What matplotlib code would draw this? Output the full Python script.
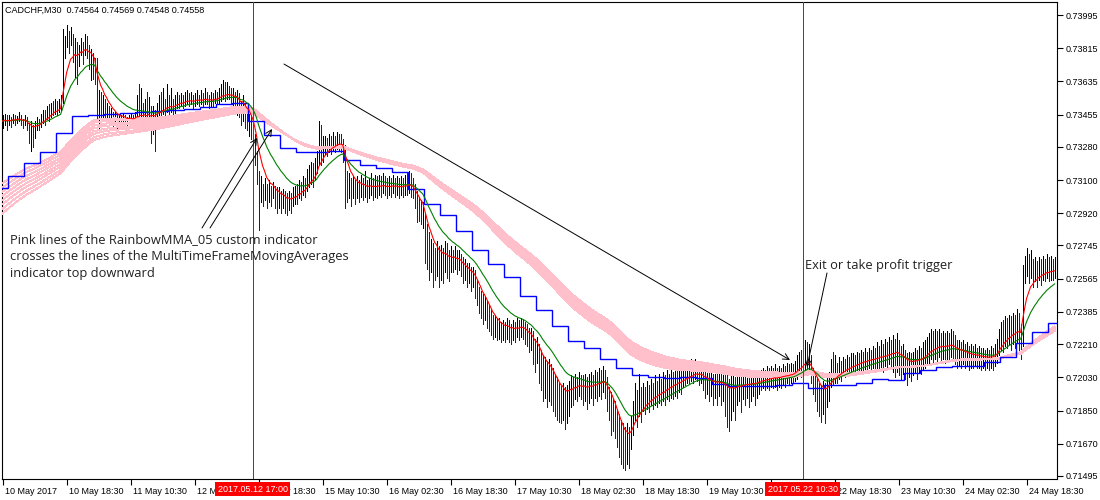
import numpy as np
import pandas as pd
import matplotlib
matplotlib.use("Agg")
from matplotlib import pyplot as plt
from matplotlib import transforms

# CADCHF M30, bar index 0 = 10 May 2017 00:00, prices in points above 0.70000
first_bar = 5
close_pts = [
    3420,3440,3410,3430,3420,3440,3425,3430,3445,3420, 3410,3430,3400,3360,3380,3350,3390,3410,3400,3430,
    3450,3440,3470,3460,3490,3480,3510,3490,3500,3520, 3800,3840,3900,3850,3880,3800,3830,3760,3800,3840,
    3790,3850,3810,3760,3780,3720,3700,3450,3520,3480, 3520,3460,3490,3440,3460,3420,3440,3410,3430,3420,
    3440,3430,3410,3430,3440,3420,3440,3470,3450,3480, 3440,3470,3430,3480,3420,3460,3440,3480,3500,3470,
    3510,3490,3530,3500,3520,3490,3510,3530,3520,3540, 3520,3530,3550,3530,3540,3520,3530,3550,3530,3540,
    3530,3550,3540,3520,3540,3530,3550,3540,3560,3570, 3580,3560,3580,3570,3550,3560,3530,3550,3500,3470,
    3520,3460,3430,3450,3380,3340,3250,3150,3020,3060, 3020,3050,3000,3040,3020,3060,3010,2990,3020,2980,
    3010,2990,2960,3000,2980,3010,3030,3020,3060,3040, 3080,3060,3100,3120,3150,3130,3170,3200,3300,3260,
    3280,3300,3280,3310,3290,3310,3300,3320,3310,3300, 3280,3120,3060,3080,3030,3070,3040,3060,3040,3080,
    3050,3070,3040,3060,3080,3050,3070,3060,3080,3060, 3080,3070,3050,3070,3060,3080,3060,3070,3050,3070,
    3060,3080,3070,3090,3070,3050,3000,2960,2950,2920, 2930,2800,2750,2700,2720,2680,2660,2700,2640,2690,
    2660,2700,2680,2650,2680,2660,2690,2650,2670,2640, 2600,2620,2580,2600,2560,2580,2540,2500,2460,2440,
    2400,2420,2380,2360,2330,2300,2320,2290,2310,2270, 2300,2280,2310,2290,2270,2300,2280,2310,2290,2320,
    2300,2280,2260,2230,2250,2200,2160,2190,2140,2100, 2060,2080,2050,2070,2040,2010,1980,1960,1940,1920,
    1950,1900,1930,1960,1990,1970,2000,1980,2010,1990, 1970,1990,1960,1980,2000,1980,2010,1990,2020,2000,
    2030,2010,1950,1900,1870,1850,1800,1760,1720,1700, 1680,1650,1700,1680,1760,1820,1880,1850,1900,1880,
    1920,1900,1940,1910,1950,1930,1960,1940,1970,1950, 1980,1960,2000,1980,2010,1990,2020,2000,2030,2010,
    2040,2030,2050,2040,2060,2050,2070,2060,2040,2050, 2030,2000,2020,1990,2010,1980,2000,1990,2010,1990,
    2000,1970,1960,1940,1960,1980,1960,1990,2000,1980, 2000,1990,2010,1990,2000,2010,1990,2010,2020,2010,
    2030,2020,2030,2020,2040,2030,2040,2020,2040,2030, 2050,2040,2050,2040,2060,2050,2070,2090,2110,2100,
    2120,2150,2120,2140,2050,2010,1990,1960,1940,1900, 1950,1920,1980,2010,2060,2040,2070,2050,2080,2070,
    2090,2080,2100,2090,2100,2110,2100,2120,2110,2130, 2120,2130,2120,2140,2130,2140,2130,2150,2140,2160,
    2140,2160,2150,2170,2160,2180,2160,2190,2150,2120, 2140,2110,2090,2110,2090,2110,2130,2120,2140,2130,
    2150,2160,2180,2190,2210,2190,2210,2200,2220,2200, 2210,2190,2210,2200,2220,2200,2180,2160,2170,2160,
    2170,2150,2160,2140,2150,2140,2150,2140,2150,2130, 2140,2130,2140,2130,2150,2140,2160,2180,2220,2260,
    2240,2280,2260,2290,2270,2300,2280,2310,2290,2260, 2580,2620,2650,2600,2630,2580,2610,2580,2620,2590,
    2620,2600,2630,2600,2620,2610,2620,
]
high_pts = [
    3450,3460,3450,3450,3440,3460,3450,3445,3470,3450, 3430,3450,3440,3410,3420,3400,3420,3440,3430,3460,
    3480,3480,3500,3510,3520,3530,3540,3530,3540,3560, 3920,3880,3940,3910,3930,3890,3870,3850,3830,3870,
    3850,3890,3880,3830,3810,3790,3760,3760,3590,3580, 3560,3540,3520,3500,3490,3470,3470,3450,3460,3450,
    3460,3450,3440,3450,3460,3450,3470,3560,3620,3600, 3520,3540,3580,3550,3500,3500,3480,3520,3560,3580,
    3600,3540,3620,3560,3600,3540,3560,3580,3560,3570, 3560,3580,3590,3570,3580,3560,3570,3590,3560,3590,
    3570,3600,3580,3560,3580,3570,3590,3580,3600,3620, 3640,3630,3630,3610,3600,3600,3580,3590,3570,3530,
    3560,3520,3500,3490,3460,3420,3350,3260,3150,3120, 3080,3110,3080,3100,3070,3090,3070,3060,3060,3040,
    3050,3040,3030,3040,3030,3060,3070,3080,3100,3090, 3120,3110,3160,3180,3200,3190,3220,3260,3420,3400,
    3340,3340,3330,3350,3340,3360,3340,3360,3350,3350, 3320,3290,3150,3140,3110,3120,3100,3120,3100,3130,
    3110,3150,3100,3110,3140,3110,3130,3120,3130,3120, 3140,3120,3110,3120,3110,3130,3110,3120,3110,3120,
    3110,3130,3140,3150,3140,3110,3080,3040,3010,2990, 2980,2920,2860,2820,2780,2760,2730,2770,2740,2750,
    2730,2770,2760,2720,2740,2720,2740,2720,2720,2700, 2680,2670,2650,2650,2630,2630,2610,2560,2520,2500,
    2480,2470,2450,2420,2400,2370,2370,2350,2350,2330, 2340,2330,2350,2340,2320,2340,2330,2350,2340,2350,
    2340,2330,2320,2300,2300,2280,2240,2250,2210,2180, 2150,2140,2120,2130,2100,2080,2050,2030,2000,1990,
    2000,1980,1990,2010,2040,2030,2050,2030,2060,2040, 2040,2050,2030,2050,2060,2040,2070,2060,2080,2070,
    2090,2070,2030,1980,1950,1920,1900,1860,1830,1800, 1780,1760,1780,1760,1820,1900,2000,1960,2050,1980,
    2000,1980,2010,1990,2020,2000,2040,2010,2050,2020, 2060,2040,2070,2050,2080,2060,2090,2070,2090,2070,
    2100,2090,2110,2100,2130,2110,2130,2120,2100,2110, 2090,2080,2080,2060,2070,2050,2060,2060,2080,2060,
    2070,2050,2040,2020,2040,2050,2030,2060,2060,2050, 2060,2050,2070,2050,2060,2070,2050,2060,2070,2070,
    2080,2070,2090,2080,2090,2080,2100,2080,2090,2080, 2100,2090,2110,2100,2110,2100,2120,2150,2170,2180,
    2200,2230,2220,2210,2150,2080,2050,2030,2000,1990, 2010,2000,2040,2060,2130,2170,2150,2110,2140,2120,
    2140,2130,2150,2140,2160,2160,2150,2170,2160,2180, 2170,2190,2170,2190,2180,2200,2190,2220,2200,2230,
    2210,2240,2220,2250,2230,2260,2240,2270,2230,2200, 2210,2180,2160,2170,2160,2170,2190,2180,2200,2190,
    2220,2230,2250,2270,2290,2280,2290,2280,2290,2270, 2280,2270,2280,2270,2290,2280,2260,2230,2230,2220,
    2230,2210,2220,2200,2210,2200,2210,2190,2200,2190, 2190,2180,2190,2180,2200,2190,2210,2240,2290,2330,
    2340,2360,2350,2370,2360,2380,2370,2400,2380,2320, 2640,2690,2730,2700,2720,2670,2680,2660,2680,2670,
    2690,2670,2700,2680,2690,2670,2680,
]
low_pts = [
    3380,3400,3370,3400,3390,3410,3400,3410,3420,3400, 3380,3400,3370,3300,3260,3280,3330,3370,3370,3390,
    3410,3400,3430,3420,3440,3450,3460,3450,3470,3480, 3520,3760,3820,3790,3830,3740,3660,3620,3720,3780,
    3730,3780,3760,3700,3640,3650,3620,3420,3370,3400, 3440,3420,3430,3400,3420,3380,3400,3380,3400,3390,
    3410,3400,3380,3400,3410,3390,3410,3430,3420,3430, 3400,3420,3380,3400,3300,3350,3260,3420,3440,3430,
    3460,3450,3470,3450,3470,3440,3460,3490,3490,3500, 3490,3500,3510,3500,3510,3490,3500,3510,3500,3510,
    3500,3510,3510,3490,3500,3500,3520,3510,3520,3530, 3540,3530,3540,3540,3520,3500,3480,3450,3440,3400,
    3420,3380,3370,3340,3320,3280,3180,3080,2830,2980, 2960,2990,2950,2980,2960,3000,2950,2920,2950,2920,
    2950,2920,2910,2940,2920,2960,2970,2970,3000,2990, 3020,3010,3040,3060,3080,3060,3100,3140,3180,3180,
    3200,3240,3230,3250,3240,3260,3250,3270,3260,3250, 3200,2950,2980,3000,2960,3000,2970,3000,2980,3010,
    2990,3010,2980,3000,3020,2990,3010,3000,3020,3010, 3030,3020,3000,3020,3010,3030,3010,3020,3000,3020,
    3010,3020,3020,3030,3010,3000,2950,2870,2880,2860, 2840,2650,2620,2560,2600,2520,2560,2580,2520,2560,
    2540,2600,2570,2550,2600,2600,2620,2590,2610,2580, 2540,2560,2520,2540,2500,2520,2460,2420,2380,2350,
    2320,2340,2300,2280,2260,2240,2250,2230,2240,2220, 2230,2220,2240,2220,2210,2230,2220,2250,2230,2250,
    2240,2210,2200,2170,2180,2100,2060,2110,2000,1960, 1900,1920,1870,1900,1880,1850,1820,1800,1790,1780,
    1800,1750,1780,1820,1870,1880,1910,1900,1930,1910, 1880,1900,1860,1890,1920,1880,1920,1900,1930,1910,
    1950,1920,1850,1800,1720,1740,1700,1650,1600,1560, 1540,1530,1560,1540,1640,1720,1800,1760,1820,1790,
    1850,1830,1860,1840,1880,1860,1880,1870,1890,1880, 1900,1880,1910,1900,1920,1910,1930,1920,1950,1940,
    1980,1990,2000,2000,2010,2000,2020,2010,1990,2000, 1960,1920,1940,1900,1930,1880,1920,1880,1930,1880,
    1900,1820,1760,1740,1800,1850,1800,1880,1900,1840, 1910,1880,1920,1870,1900,1930,1880,1920,1940,1960,
    1970,1960,1970,1960,1980,1970,1980,1960,1980,1970, 1990,1980,2000,1990,2000,2000,2010,2020,2040,2030,
    2050,2070,2060,2060,2000,1940,1900,1850,1820,1790, 1830,1780,1870,1900,1980,1990,2000,2000,2020,2010,
    2040,2030,2050,2040,2050,2060,2050,2070,2060,2070, 2060,2070,2060,2080,2070,2080,2070,2080,2070,2080,
    2060,2090,2080,2100,2090,2060,2030,2060,2040,2020, 2050,2020,1990,2030,2010,2040,2060,2020,2060,2050,
    2070,2080,2100,2110,2130,2110,2130,2120,2140,2120, 2130,2110,2130,2120,2140,2120,2100,2080,2090,2080,
    2100,2080,2090,2070,2080,2080,2090,2080,2080,2070, 2080,2070,2080,2070,2080,2070,2090,2110,2150,2180,
    2170,2200,2190,2210,2180,2210,2190,2220,2160,2130, 2200,2540,2580,2540,2570,2520,2550,2520,2560,2530,
    2560,2550,2570,2550,2560,2560,2570,
]
# MultiTimeFrameMovingAverages, one H4 value per 8 bars
mtf_h4_pts = [
    3057,3122,3192,3252,3355,3447,3453,3458,3464,3469,
    3474,3480,3485,3496,3512,3518,3421,3344,3274,3250,
    3252,3255,3209,3182,3165,3144,3051,2970,2910,2824,
    2721,2645,2574,2471,2395,2309,2227,2189,2130,2081,
    2043,2032,2027,2032,2027,1994,1983,1983,1983,1989,
    2000,1972,1989,1989,2000,2021,2016,2054,2070,2086,
    2092,2092,2113,2140,2216,2276,2325,
]
# RainbowMMA lines: starting level at the left edge and period
rainbow_seed_pts = [3075, 3052, 3029, 3006, 2983, 2960, 2935, 2910]
rainbow_periods = [90, 92, 95, 97, 100, 102, 105, 107]
red_period = 8
green_period = 21

price_ticks = [0.73995, 0.73815, 0.73635, 0.73455, 0.73280, 0.73100, 0.72920, 0.72745,
               0.72565, 0.72385, 0.72210, 0.72030, 0.71850, 0.71670, 0.71495]
time_tick_bars = [5, 37, 69, 101, 133, 165, 197, 229, 261, 293, 325, 357, 389, 421, 453, 485, 517]
time_tick_labels = ["10 May 2017", "10 May 18:30", "11 May 10:30", "12 May 02:30", "12 May 18:30",
                    "15 May 10:30", "16 May 02:30", "16 May 18:30", "17 May 10:30", "18 May 02:30",
                    "18 May 18:30", "19 May 10:30", "22 May 02:30", "22 May 18:30", "23 May 10:30",
                    "24 May 02:30", "24 May 18:30"]
vline_bars = [130, 405]
vline_labels = ["2017.05.12 17:00", "2017.05.22 10:30"]

to_price = lambda pts: 0.7 + np.asarray(pts, dtype=float) / 1e5

close = to_price(close_pts)
high = to_price(high_pts)
low = to_price(low_pts)
x = np.arange(first_bar, first_bar + len(close))
open_ = np.r_[close[0], close[:-1]]
up = close >= open_

fig = plt.figure(figsize=(11, 5), dpi=100)
ax = fig.add_axes([2/1100, 21/500, 1055/1100, 477/500])
ax.set_xlim(4.7, 532.2)
ax.set_ylim(0.714787, 0.740655)

ax.vlines(x[up], low[up], high[up], colors='black', lw=0.72, antialiased=False, zorder=2)
ax.vlines(x[~up], low[~up], high[~up], colors='#800000', lw=0.72, antialiased=False, zorder=2)

for seed, per in zip(rainbow_seed_pts, rainbow_periods):
    s = pd.Series(np.r_[to_price(seed), close]).ewm(span=per, adjust=False).mean().values[1:]
    ax.plot(x, s, color='#ffc0cb', lw=0.72, antialiased=False, zorder=3)

blue = to_price(mtf_h4_pts)
ax.stairs(blue, np.arange(len(blue) + 1) * 8 - 0.5, baseline=None, color='blue', lw=1.0,
          zorder=4)

green = pd.Series(close).ewm(span=green_period, adjust=False).mean()
red = pd.Series(close).ewm(span=red_period, adjust=False).mean()
ax.plot(x, green, color='green', lw=0.8, zorder=5)
ax.plot(x, red, color='red', lw=0.8, zorder=6)

for b in vline_bars:
    ax.axvline(b, color='red', lw=0.72, antialiased=False, zorder=7)

# drawn objects: trend line and arrows
arrows = [((145.7, 0.73729), (398.7, 0.72124)),
          ((104.7, 0.72840), (132.2, 0.73328)),
          ((108.7, 0.72840), (139.7, 0.73377)),
          ((417.2, 0.72596), (407.2, 0.72086))]
for start, end in arrows:
    ax.annotate('', xy=end, xytext=start,
                arrowprops=dict(arrowstyle='->', color='black', lw=0.7,
                                shrinkA=0, shrinkB=0, mutation_scale=11), zorder=8)

note_font = dict(family='Open Sans', fontsize=9.3, color='#202020', zorder=9)
ax.text(8.7, 0.72775, "Pink lines of the RainbowMMA_05 custom indicator", va='center', **note_font)
ax.text(8.7, 0.72683, "crosses the lines of the MultiTimeFrameMovingAverages", va='center', **note_font)
ax.text(8.7, 0.72591, "indicator top downward", va='center', **note_font)
ax.text(406.2, 0.72639, "Exit or take profit trigger", va='center', **note_font)

small = dict(family='Liberation Sans', fontsize=6.5)
ax.text(3/1055, 0.983, "CADCHF,M30  0.74564 0.74569 0.74548 0.74558",
        transform=ax.transAxes, va='center', ha='left', zorder=9, **small)

ax.yaxis.tick_right()
ax.set_yticks(price_ticks)
ax.set_yticklabels([f"{p:.5f}" for p in price_ticks], **small)
ax.set_xticks(time_tick_bars)
ax.set_xticklabels(time_tick_labels, **small)
ax.tick_params(axis='both', direction='out', length=4, width=0.8, pad=2)
shift = transforms.ScaledTranslation(1.5/72, 0, fig.dpi_scale_trans)
for lbl in ax.get_xticklabels():
    lbl.set_horizontalalignment('left')
    lbl.set_transform(lbl.get_transform() + shift)
for sp in ax.spines.values():
    sp.set_linewidth(0.8)
    sp.set_color('black')

lab_tr = transforms.blended_transform_factory(ax.transData, ax.transAxes)
for b, lab in zip(vline_bars, vline_labels):
    ax.text(b, -0.021, lab, transform=lab_tr, ha='center', va='center', color='white',
            clip_on=False, zorder=20,
            bbox=dict(boxstyle='square,pad=0.3', fc='red', ec='none'), **small)

fig.savefig('out.png', dpi=100, facecolor='white')
